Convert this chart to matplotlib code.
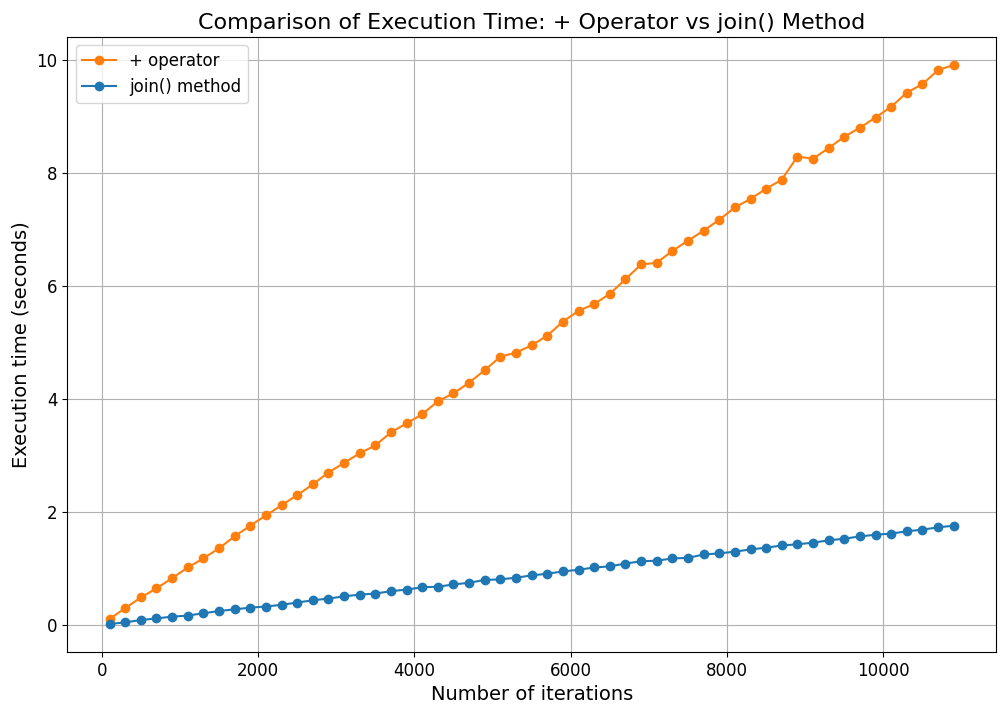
import numpy as np
import matplotlib.pyplot as plt

# Data
iterations = list(range(100, 11000, 200))
plus_times = [0.11, 0.30, 0.49, 0.65, 0.83, 1.02, 1.18, 1.36, 1.57, 1.76,
              1.94, 2.12, 2.30, 2.49, 2.70, 2.87, 3.04, 3.18, 3.41, 3.57,
              3.73, 3.96, 4.10, 4.29, 4.51, 4.75, 4.82, 4.95, 5.12, 5.37,
              5.56, 5.68, 5.86, 6.12, 6.38, 6.41, 6.62, 6.80, 6.98, 7.17,
              7.39, 7.54, 7.72, 7.88, 8.29, 8.25, 8.44, 8.64, 8.80, 8.98,
              9.17, 9.42, 9.57, 9.82, 9.91]
join_times = [0.02, 0.05, 0.09, 0.12, 0.15, 0.17, 0.21, 0.25, 0.28, 0.31,
              0.33, 0.36, 0.40, 0.44, 0.47, 0.51, 0.54, 0.56, 0.60, 0.63,
              0.67, 0.68, 0.72, 0.75, 0.80, 0.81, 0.84, 0.88, 0.91, 0.95,
              0.98, 1.02, 1.04, 1.09, 1.13, 1.14, 1.18, 1.19, 1.25, 1.27,
              1.30, 1.34, 1.37, 1.41, 1.43, 1.46, 1.50, 1.53, 1.57, 1.60,
              1.62, 1.66, 1.69, 1.73, 1.76]

fig, ax = plt.subplots(figsize=(10.05, 7.11), dpi=100)
fig.subplots_adjust(left=0.067, right=0.991, top=0.948, bottom=0.083)

ax.plot(iterations, plus_times, marker="o", color="C1", label="+ operator")
ax.plot(iterations, join_times, marker="o", color="C0", label="join() method")

ax.set_title("Comparison of Execution Time: + Operator vs join() Method", fontsize=16)
ax.set_xlabel("Number of iterations", fontsize=14)
ax.set_ylabel("Execution time (seconds)", fontsize=14)
ax.tick_params(labelsize=12)
ax.legend(fontsize=12, loc="upper left")
ax.grid(True)

plt.savefig("out.png", dpi=100)
